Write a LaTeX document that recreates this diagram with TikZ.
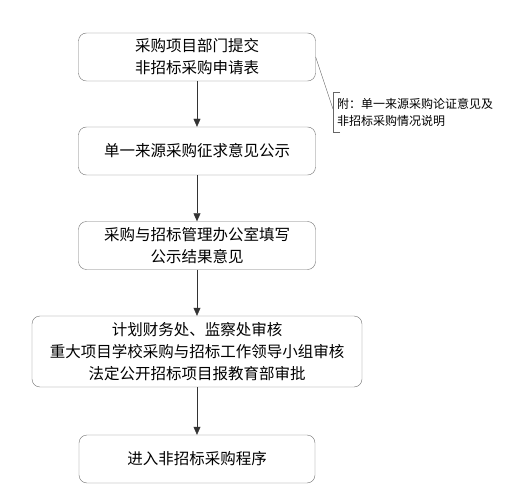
\documentclass[tikz,border=0pt]{standalone}
\usepackage{fontspec}
\setmainfont{Noto Sans CJK SC}
\usetikzlibrary{arrows.meta}

\begin{document}
\begin{tikzpicture}[x=1pt,y=-1pt,
    stepbox/.style={draw=black!55,rounded corners=8pt,align=center,
      inner sep=0pt,font=\fontsize{15.5}{22}\selectfont},
    flow/.style={draw=black!80,-{Triangle[width=7pt,length=8pt]}}]
  \useasboundingbox (0,0) rectangle (530,497);

  \node[stepbox,minimum width=237pt,minimum height=48pt] (apply) at (197,57)
    {采购项目部门提交\\非招标采购申请表};
  \node[stepbox,minimum width=237pt,minimum height=48pt] (notice) at (197,151)
    {单一来源采购征求意见公示};
  \node[stepbox,minimum width=237pt,minimum height=48pt] (result) at (197,245.5)
    {采购与招标管理办公室填写\\公示结果意见};
  \node[stepbox,minimum width=330pt,minimum height=71pt] (review) at (197,351.5)
    {计划财务处、监察处审核\\重大项目学校采购与招标工作领导小组审核\\法定公开招标项目报教育部审批};
  \node[stepbox,minimum width=236pt,minimum height=48pt] (enter) at (197,459)
    {进入非招标采购程序};

  \node[align=left,anchor=west,inner sep=0pt,font=\fontsize{12}{17}\selectfont] (attach) at (337,112)
    {附：单一来源采购论证意见及\\非招标采购情况说明};

  \draw[flow] (apply) -- (notice);
  \draw[flow] (notice) -- (result);
  \draw[flow] (result) -- (review);
  \draw[flow] (review) -- (enter);

  % bracket of the note
  \draw[black!60] ([xshift=3pt,yshift=-20pt]attach.west) -- ([xshift=-4pt,yshift=-20pt]attach.west)
    -- ([xshift=-4pt,yshift=20pt]attach.west) -- ([xshift=3pt,yshift=20pt]attach.west);
  \draw[black!60] (apply.east) -- ([xshift=-4pt,yshift=3pt]attach.west);
\end{tikzpicture}
\end{document}
